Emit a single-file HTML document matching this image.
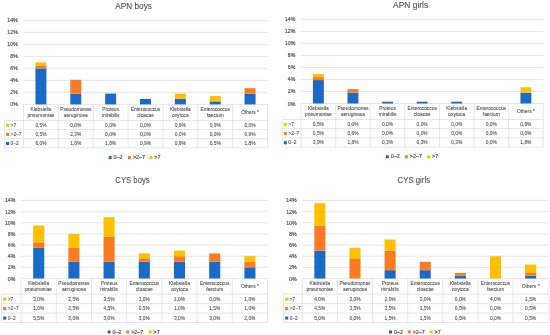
<!DOCTYPE html>
<html lang="en"><head><meta charset="utf-8"><title>Uropathogens by age group</title>
<style>html,body{margin:0;padding:0;background:#fff}svg{display:block}text{font-family:"Liberation Sans",sans-serif;fill:#555555;stroke:#555;stroke-width:0.2px}.v{stroke-width:0.1px}.s{font-size:4.95px}.t{font-size:8.8px;fill:#555555;stroke-width:0.12px}.g{stroke:#dcdcdc;stroke-width:0.7;fill:none}</style></head><body>
<svg width="550" height="335" viewBox="0 0 550 335">
<rect width="550" height="335" fill="#fff"/>
<g>
<text class="t" x="133.6" y="8.7" text-anchor="middle" textLength="36.6" lengthAdjust="spacingAndGlyphs">APN boys</text>
<path class="g" d="M23.5 104.4H267.5M23.5 92.41H267.5M23.5 80.41H267.5M23.5 68.42H267.5M23.5 56.43H267.5M23.5 44.44H267.5M23.5 32.44H267.5M23.5 20.45H267.5M4.4 120.5H267.5M4.4 129.5H267.5M4.4 138.7H267.5M4.4 147.8H267.5M23.5 104.4V147.8M58.36 104.4V147.8M93.21 104.4V147.8M128.07 104.4V147.8M162.93 104.4V147.8M197.79 104.4V147.8M232.64 104.4V147.8M267.5 104.4V147.8M4.4 120.5V147.8"/>
<text text-anchor="end" x="17.8" y="106.4" font-size="5.8" textLength="7.54" lengthAdjust="spacingAndGlyphs">0%</text>
<text text-anchor="end" x="17.8" y="94.41" font-size="5.8" textLength="7.54" lengthAdjust="spacingAndGlyphs">2%</text>
<text text-anchor="end" x="17.8" y="82.41" font-size="5.8" textLength="7.54" lengthAdjust="spacingAndGlyphs">4%</text>
<text text-anchor="end" x="17.8" y="70.42" font-size="5.8" textLength="7.54" lengthAdjust="spacingAndGlyphs">6%</text>
<text text-anchor="end" x="17.8" y="58.43" font-size="5.8" textLength="7.54" lengthAdjust="spacingAndGlyphs">8%</text>
<text text-anchor="end" x="17.8" y="46.44" font-size="5.8" textLength="10.45" lengthAdjust="spacingAndGlyphs">10%</text>
<text text-anchor="end" x="17.8" y="34.44" font-size="5.8" textLength="10.45" lengthAdjust="spacingAndGlyphs">12%</text>
<text text-anchor="end" x="17.8" y="22.45" font-size="5.8" textLength="10.45" lengthAdjust="spacingAndGlyphs">14%</text>
<rect x="35.43" y="68.42" width="11" height="35.98" fill="#1a6ac8"/>
<rect x="35.43" y="65.42" width="11" height="3" fill="#fb7b22"/>
<rect x="35.43" y="62.43" width="11" height="3" fill="#ffc000"/>
<rect x="70.29" y="93.61" width="11" height="10.79" fill="#1a6ac8"/>
<rect x="70.29" y="79.81" width="11" height="13.79" fill="#fb7b22"/>
<rect x="105.14" y="93.61" width="11" height="10.79" fill="#1a6ac8"/>
<rect x="140" y="99" width="11" height="5.4" fill="#1a6ac8"/>
<rect x="174.86" y="99" width="11" height="5.4" fill="#1a6ac8"/>
<rect x="174.86" y="93.61" width="11" height="5.4" fill="#ffc000"/>
<rect x="209.72" y="101.4" width="11" height="3" fill="#1a6ac8"/>
<rect x="209.72" y="96.01" width="11" height="5.4" fill="#ffc000"/>
<rect x="244.57" y="93.61" width="11" height="10.79" fill="#1a6ac8"/>
<rect x="244.57" y="88.21" width="11" height="5.4" fill="#fb7b22"/>
<text class="v" text-anchor="middle" x="40.93" y="111.25" font-size="5.4" textLength="20.8" lengthAdjust="spacingAndGlyphs">Klebsiella</text>
<text class="v" text-anchor="middle" x="40.93" y="117.25" font-size="5.4" textLength="26.75" lengthAdjust="spacingAndGlyphs">pneumoniae</text>
<text class="v" text-anchor="middle" x="75.79" y="111.25" font-size="5.4" textLength="31.07" lengthAdjust="spacingAndGlyphs">Pseudomonas</text>
<text class="v" text-anchor="middle" x="75.79" y="117.25" font-size="5.4" textLength="24.05" lengthAdjust="spacingAndGlyphs">aeruginosa</text>
<text class="v" text-anchor="middle" x="110.64" y="111.25" font-size="5.4" textLength="16.75" lengthAdjust="spacingAndGlyphs">Proteus</text>
<text class="v" text-anchor="middle" x="110.64" y="117.25" font-size="5.4" textLength="17.82" lengthAdjust="spacingAndGlyphs">mirabilis</text>
<text class="v" text-anchor="middle" x="145.5" y="111.25" font-size="5.4" textLength="29.44" lengthAdjust="spacingAndGlyphs">Enterococcus</text>
<text class="v" text-anchor="middle" x="145.5" y="117.25" font-size="5.4" textLength="16.75" lengthAdjust="spacingAndGlyphs">cloacae</text>
<text class="v" text-anchor="middle" x="180.36" y="111.25" font-size="5.4" textLength="20.8" lengthAdjust="spacingAndGlyphs">Klebsiella</text>
<text class="v" text-anchor="middle" x="180.36" y="117.25" font-size="5.4" textLength="16.75" lengthAdjust="spacingAndGlyphs">oxytoca</text>
<text class="v" text-anchor="middle" x="215.21" y="111.25" font-size="5.4" textLength="29.44" lengthAdjust="spacingAndGlyphs">Enterococcus</text>
<text class="v" text-anchor="middle" x="215.21" y="117.25" font-size="5.4" textLength="17.02" lengthAdjust="spacingAndGlyphs">faecium</text>
<text class="v" text-anchor="middle" x="250.07" y="114.35" font-size="5.4" textLength="17.83" lengthAdjust="spacingAndGlyphs">Others *</text>
<rect x="6.05" y="123.75" width="3.1" height="3.1" fill="#ffc000"/>
<text class="v" x="10.6" y="126.9" font-size="5.4" textLength="5.54" lengthAdjust="spacingAndGlyphs">&gt;7</text>
<text class="v" text-anchor="middle" x="40.93" y="126.9" font-size="5.4" textLength="11.08" lengthAdjust="spacingAndGlyphs">0,5%</text>
<text class="v" text-anchor="middle" x="75.79" y="126.9" font-size="5.4" textLength="11.08" lengthAdjust="spacingAndGlyphs">0,0%</text>
<text class="v" text-anchor="middle" x="110.64" y="126.9" font-size="5.4" textLength="11.08" lengthAdjust="spacingAndGlyphs">0,0%</text>
<text class="v" text-anchor="middle" x="145.5" y="126.9" font-size="5.4" textLength="11.08" lengthAdjust="spacingAndGlyphs">0,0%</text>
<text class="v" text-anchor="middle" x="180.36" y="126.9" font-size="5.4" textLength="11.08" lengthAdjust="spacingAndGlyphs">0,9%</text>
<text class="v" text-anchor="middle" x="215.21" y="126.9" font-size="5.4" textLength="11.08" lengthAdjust="spacingAndGlyphs">0,9%</text>
<text class="v" text-anchor="middle" x="250.07" y="126.9" font-size="5.4" textLength="11.08" lengthAdjust="spacingAndGlyphs">0,0%</text>
<rect x="6.05" y="132.85" width="3.1" height="3.1" fill="#fb7b22"/>
<text class="v" x="10.6" y="136" font-size="5.4" textLength="10.95" lengthAdjust="spacingAndGlyphs">&gt;2–7</text>
<text class="v" text-anchor="middle" x="40.93" y="136" font-size="5.4" textLength="11.08" lengthAdjust="spacingAndGlyphs">0,5%</text>
<text class="v" text-anchor="middle" x="75.79" y="136" font-size="5.4" textLength="11.08" lengthAdjust="spacingAndGlyphs">2,3%</text>
<text class="v" text-anchor="middle" x="110.64" y="136" font-size="5.4" textLength="11.08" lengthAdjust="spacingAndGlyphs">0,0%</text>
<text class="v" text-anchor="middle" x="145.5" y="136" font-size="5.4" textLength="11.08" lengthAdjust="spacingAndGlyphs">0,0%</text>
<text class="v" text-anchor="middle" x="180.36" y="136" font-size="5.4" textLength="11.08" lengthAdjust="spacingAndGlyphs">0,0%</text>
<text class="v" text-anchor="middle" x="215.21" y="136" font-size="5.4" textLength="11.08" lengthAdjust="spacingAndGlyphs">0,0%</text>
<text class="v" text-anchor="middle" x="250.07" y="136" font-size="5.4" textLength="11.08" lengthAdjust="spacingAndGlyphs">0,9%</text>
<rect x="6.05" y="142" width="3.1" height="3.1" fill="#1a6ac8"/>
<text class="v" x="10.6" y="145.15" font-size="5.4" textLength="8.11" lengthAdjust="spacingAndGlyphs">0–2</text>
<text class="v" text-anchor="middle" x="40.93" y="145.15" font-size="5.4" textLength="11.08" lengthAdjust="spacingAndGlyphs">6,0%</text>
<text class="v" text-anchor="middle" x="75.79" y="145.15" font-size="5.4" textLength="11.08" lengthAdjust="spacingAndGlyphs">1,8%</text>
<text class="v" text-anchor="middle" x="110.64" y="145.15" font-size="5.4" textLength="11.08" lengthAdjust="spacingAndGlyphs">1,8%</text>
<text class="v" text-anchor="middle" x="145.5" y="145.15" font-size="5.4" textLength="11.08" lengthAdjust="spacingAndGlyphs">0,9%</text>
<text class="v" text-anchor="middle" x="180.36" y="145.15" font-size="5.4" textLength="11.08" lengthAdjust="spacingAndGlyphs">0,9%</text>
<text class="v" text-anchor="middle" x="215.21" y="145.15" font-size="5.4" textLength="11.08" lengthAdjust="spacingAndGlyphs">0,5%</text>
<text class="v" text-anchor="middle" x="250.07" y="145.15" font-size="5.4" textLength="11.08" lengthAdjust="spacingAndGlyphs">1,8%</text>
<rect x="108.7" y="156.1" width="3" height="3" fill="#1a6ac8"/>
<text x="113.6" y="159.1" font-size="5.8" textLength="9" lengthAdjust="spacingAndGlyphs">0–2</text>
<rect x="128" y="156.1" width="3" height="3" fill="#fb7b22"/>
<text x="132.9" y="159.1" font-size="5.8" textLength="12.15" lengthAdjust="spacingAndGlyphs">&gt;2–7</text>
<rect x="149.4" y="156.1" width="3" height="3" fill="#ffc000"/>
<text x="154.3" y="159.1" font-size="5.8" textLength="6.15" lengthAdjust="spacingAndGlyphs">&gt;7</text>
</g>
<g>
<text class="t" x="410.6" y="7.6" text-anchor="middle" textLength="35.1" lengthAdjust="spacingAndGlyphs">APN girls</text>
<path class="g" d="M301.1 103.5H543.2M301.1 91.49H543.2M301.1 79.49H543.2M301.1 67.48H543.2M301.1 55.47H543.2M301.1 43.46H543.2M301.1 31.46H543.2M301.1 19.45H543.2M282.1 119.5H543.2M282.1 128.6H543.2M282.1 137.8H543.2M282.1 147.1H543.2M301.1 103.5V147.1M335.69 103.5V147.1M370.27 103.5V147.1M404.86 103.5V147.1M439.44 103.5V147.1M474.03 103.5V147.1M508.61 103.5V147.1M543.2 103.5V147.1M282.1 119.5V147.1"/>
<text text-anchor="end" x="295.4" y="105.5" font-size="5.8" textLength="7.54" lengthAdjust="spacingAndGlyphs">0%</text>
<text text-anchor="end" x="295.4" y="93.49" font-size="5.8" textLength="7.54" lengthAdjust="spacingAndGlyphs">2%</text>
<text text-anchor="end" x="295.4" y="81.49" font-size="5.8" textLength="7.54" lengthAdjust="spacingAndGlyphs">4%</text>
<text text-anchor="end" x="295.4" y="69.48" font-size="5.8" textLength="7.54" lengthAdjust="spacingAndGlyphs">6%</text>
<text text-anchor="end" x="295.4" y="57.47" font-size="5.8" textLength="7.54" lengthAdjust="spacingAndGlyphs">8%</text>
<text text-anchor="end" x="295.4" y="45.46" font-size="5.8" textLength="10.45" lengthAdjust="spacingAndGlyphs">10%</text>
<text text-anchor="end" x="295.4" y="33.46" font-size="5.8" textLength="10.45" lengthAdjust="spacingAndGlyphs">12%</text>
<text text-anchor="end" x="295.4" y="21.45" font-size="5.8" textLength="10.45" lengthAdjust="spacingAndGlyphs">14%</text>
<rect x="312.94" y="80.09" width="10.91" height="23.41" fill="#1a6ac8"/>
<rect x="312.94" y="77.08" width="10.91" height="3" fill="#fb7b22"/>
<rect x="312.94" y="74.08" width="10.91" height="3" fill="#ffc000"/>
<rect x="347.52" y="92.69" width="10.91" height="10.81" fill="#1a6ac8"/>
<rect x="347.52" y="89.09" width="10.91" height="3.6" fill="#fb7b22"/>
<rect x="382.11" y="101.7" width="10.91" height="1.8" fill="#1a6ac8"/>
<rect x="416.69" y="101.7" width="10.91" height="1.8" fill="#1a6ac8"/>
<rect x="451.28" y="101.7" width="10.91" height="1.8" fill="#1a6ac8"/>
<rect x="520.45" y="92.69" width="10.91" height="10.81" fill="#1a6ac8"/>
<rect x="520.45" y="87.29" width="10.91" height="5.4" fill="#ffc000"/>
<text class="v" text-anchor="middle" x="318.39" y="110.3" font-size="5.4" textLength="20.8" lengthAdjust="spacingAndGlyphs">Klebsiella</text>
<text class="v" text-anchor="middle" x="318.39" y="116.3" font-size="5.4" textLength="26.75" lengthAdjust="spacingAndGlyphs">pneumoniae</text>
<text class="v" text-anchor="middle" x="352.98" y="110.3" font-size="5.4" textLength="31.07" lengthAdjust="spacingAndGlyphs">Pseudomonas</text>
<text class="v" text-anchor="middle" x="352.98" y="116.3" font-size="5.4" textLength="24.05" lengthAdjust="spacingAndGlyphs">aeruginosa</text>
<text class="v" text-anchor="middle" x="387.56" y="110.3" font-size="5.4" textLength="16.75" lengthAdjust="spacingAndGlyphs">Proteus</text>
<text class="v" text-anchor="middle" x="387.56" y="116.3" font-size="5.4" textLength="17.82" lengthAdjust="spacingAndGlyphs">mirabilis</text>
<text class="v" text-anchor="middle" x="422.15" y="110.3" font-size="5.4" textLength="29.44" lengthAdjust="spacingAndGlyphs">Enterococcus</text>
<text class="v" text-anchor="middle" x="422.15" y="116.3" font-size="5.4" textLength="16.75" lengthAdjust="spacingAndGlyphs">cloacae</text>
<text class="v" text-anchor="middle" x="456.74" y="110.3" font-size="5.4" textLength="20.8" lengthAdjust="spacingAndGlyphs">Klebsiella</text>
<text class="v" text-anchor="middle" x="456.74" y="116.3" font-size="5.4" textLength="16.75" lengthAdjust="spacingAndGlyphs">oxytoca</text>
<text class="v" text-anchor="middle" x="491.32" y="110.3" font-size="5.4" textLength="29.44" lengthAdjust="spacingAndGlyphs">Enterococcus</text>
<text class="v" text-anchor="middle" x="491.32" y="116.3" font-size="5.4" textLength="17.02" lengthAdjust="spacingAndGlyphs">faecium</text>
<text class="v" text-anchor="middle" x="525.91" y="113.4" font-size="5.4" textLength="17.83" lengthAdjust="spacingAndGlyphs">Others *</text>
<rect x="283.75" y="122.8" width="3.1" height="3.1" fill="#ffc000"/>
<text class="v" x="288.3" y="125.95" font-size="5.4" textLength="5.54" lengthAdjust="spacingAndGlyphs">&gt;7</text>
<text class="v" text-anchor="middle" x="318.39" y="125.95" font-size="5.4" textLength="11.08" lengthAdjust="spacingAndGlyphs">0,5%</text>
<text class="v" text-anchor="middle" x="352.98" y="125.95" font-size="5.4" textLength="11.08" lengthAdjust="spacingAndGlyphs">0,0%</text>
<text class="v" text-anchor="middle" x="387.56" y="125.95" font-size="5.4" textLength="11.08" lengthAdjust="spacingAndGlyphs">0,0%</text>
<text class="v" text-anchor="middle" x="422.15" y="125.95" font-size="5.4" textLength="11.08" lengthAdjust="spacingAndGlyphs">0,0%</text>
<text class="v" text-anchor="middle" x="456.74" y="125.95" font-size="5.4" textLength="11.08" lengthAdjust="spacingAndGlyphs">0,0%</text>
<text class="v" text-anchor="middle" x="491.32" y="125.95" font-size="5.4" textLength="11.08" lengthAdjust="spacingAndGlyphs">0,0%</text>
<text class="v" text-anchor="middle" x="525.91" y="125.95" font-size="5.4" textLength="11.08" lengthAdjust="spacingAndGlyphs">0,9%</text>
<rect x="283.75" y="131.95" width="3.1" height="3.1" fill="#fb7b22"/>
<text class="v" x="288.3" y="135.1" font-size="5.4" textLength="10.95" lengthAdjust="spacingAndGlyphs">&gt;2–7</text>
<text class="v" text-anchor="middle" x="318.39" y="135.1" font-size="5.4" textLength="11.08" lengthAdjust="spacingAndGlyphs">0,5%</text>
<text class="v" text-anchor="middle" x="352.98" y="135.1" font-size="5.4" textLength="11.08" lengthAdjust="spacingAndGlyphs">0,6%</text>
<text class="v" text-anchor="middle" x="387.56" y="135.1" font-size="5.4" textLength="11.08" lengthAdjust="spacingAndGlyphs">0,0%</text>
<text class="v" text-anchor="middle" x="422.15" y="135.1" font-size="5.4" textLength="11.08" lengthAdjust="spacingAndGlyphs">0,0%</text>
<text class="v" text-anchor="middle" x="456.74" y="135.1" font-size="5.4" textLength="11.08" lengthAdjust="spacingAndGlyphs">0,0%</text>
<text class="v" text-anchor="middle" x="491.32" y="135.1" font-size="5.4" textLength="11.08" lengthAdjust="spacingAndGlyphs">0,0%</text>
<text class="v" text-anchor="middle" x="525.91" y="135.1" font-size="5.4" textLength="11.08" lengthAdjust="spacingAndGlyphs">0,0%</text>
<rect x="283.75" y="141.2" width="3.1" height="3.1" fill="#1a6ac8"/>
<text class="v" x="288.3" y="144.35" font-size="5.4" textLength="8.11" lengthAdjust="spacingAndGlyphs">0–2</text>
<text class="v" text-anchor="middle" x="318.39" y="144.35" font-size="5.4" textLength="11.08" lengthAdjust="spacingAndGlyphs">3,9%</text>
<text class="v" text-anchor="middle" x="352.98" y="144.35" font-size="5.4" textLength="11.08" lengthAdjust="spacingAndGlyphs">1,8%</text>
<text class="v" text-anchor="middle" x="387.56" y="144.35" font-size="5.4" textLength="11.08" lengthAdjust="spacingAndGlyphs">0,3%</text>
<text class="v" text-anchor="middle" x="422.15" y="144.35" font-size="5.4" textLength="11.08" lengthAdjust="spacingAndGlyphs">0,3%</text>
<text class="v" text-anchor="middle" x="456.74" y="144.35" font-size="5.4" textLength="11.08" lengthAdjust="spacingAndGlyphs">0,3%</text>
<text class="v" text-anchor="middle" x="491.32" y="144.35" font-size="5.4" textLength="11.08" lengthAdjust="spacingAndGlyphs">0,0%</text>
<text class="v" text-anchor="middle" x="525.91" y="144.35" font-size="5.4" textLength="11.08" lengthAdjust="spacingAndGlyphs">1,8%</text>
<rect x="385.8" y="155.3" width="3" height="3" fill="#1a6ac8"/>
<text x="390.7" y="158.3" font-size="5.8" textLength="9" lengthAdjust="spacingAndGlyphs">0–2</text>
<rect x="404.9" y="155.3" width="3" height="3" fill="#fb7b22"/>
<text x="409.8" y="158.3" font-size="5.8" textLength="12.15" lengthAdjust="spacingAndGlyphs">&gt;2–7</text>
<rect x="427.2" y="155.3" width="3" height="3" fill="#ffc000"/>
<text x="432.1" y="158.3" font-size="5.8" textLength="6.15" lengthAdjust="spacingAndGlyphs">&gt;7</text>
</g>
<g>
<text class="t" x="132.5" y="183" text-anchor="middle" textLength="34.3" lengthAdjust="spacingAndGlyphs">CYS boys</text>
<path class="g" d="M21.1 278.5H267.5M21.1 267.35H267.5M21.1 256.2H267.5M21.1 245.05H267.5M21.1 233.9H267.5M21.1 222.75H267.5M21.1 211.6H267.5M21.1 200.45H267.5M1.5 294.1H267.5M1.5 303.6H267.5M1.5 313.05H267.5M1.5 322.5H267.5M21.1 278.5V322.5M56.3 278.5V322.5M91.5 278.5V322.5M126.7 278.5V322.5M161.9 278.5V322.5M197.1 278.5V322.5M232.3 278.5V322.5M267.5 278.5V322.5M1.5 294.1V322.5"/>
<text text-anchor="end" x="15.4" y="280.5" font-size="5.8" textLength="7.54" lengthAdjust="spacingAndGlyphs">0%</text>
<text text-anchor="end" x="15.4" y="269.35" font-size="5.8" textLength="7.54" lengthAdjust="spacingAndGlyphs">2%</text>
<text text-anchor="end" x="15.4" y="258.2" font-size="5.8" textLength="7.54" lengthAdjust="spacingAndGlyphs">4%</text>
<text text-anchor="end" x="15.4" y="247.05" font-size="5.8" textLength="7.54" lengthAdjust="spacingAndGlyphs">6%</text>
<text text-anchor="end" x="15.4" y="235.9" font-size="5.8" textLength="7.54" lengthAdjust="spacingAndGlyphs">8%</text>
<text text-anchor="end" x="15.4" y="224.75" font-size="5.8" textLength="10.45" lengthAdjust="spacingAndGlyphs">10%</text>
<text text-anchor="end" x="15.4" y="213.6" font-size="5.8" textLength="10.45" lengthAdjust="spacingAndGlyphs">12%</text>
<text text-anchor="end" x="15.4" y="202.45" font-size="5.8" textLength="10.45" lengthAdjust="spacingAndGlyphs">14%</text>
<rect x="33.15" y="247.84" width="11.1" height="30.66" fill="#1a6ac8"/>
<rect x="33.15" y="242.26" width="11.1" height="5.58" fill="#fb7b22"/>
<rect x="33.15" y="225.54" width="11.1" height="16.73" fill="#ffc000"/>
<rect x="68.35" y="261.77" width="11.1" height="16.73" fill="#1a6ac8"/>
<rect x="68.35" y="247.84" width="11.1" height="13.94" fill="#fb7b22"/>
<rect x="68.35" y="233.9" width="11.1" height="13.94" fill="#ffc000"/>
<rect x="103.55" y="261.77" width="11.1" height="16.73" fill="#1a6ac8"/>
<rect x="103.55" y="236.69" width="11.1" height="25.09" fill="#fb7b22"/>
<rect x="103.55" y="217.17" width="11.1" height="19.51" fill="#ffc000"/>
<rect x="138.75" y="261.77" width="11.1" height="16.73" fill="#1a6ac8"/>
<rect x="138.75" y="258.99" width="11.1" height="2.79" fill="#fb7b22"/>
<rect x="138.75" y="253.41" width="11.1" height="5.58" fill="#ffc000"/>
<rect x="173.95" y="261.77" width="11.1" height="16.73" fill="#1a6ac8"/>
<rect x="173.95" y="256.2" width="11.1" height="5.58" fill="#fb7b22"/>
<rect x="173.95" y="250.62" width="11.1" height="5.58" fill="#ffc000"/>
<rect x="209.15" y="261.77" width="11.1" height="16.73" fill="#1a6ac8"/>
<rect x="209.15" y="253.41" width="11.1" height="8.36" fill="#fb7b22"/>
<rect x="244.35" y="267.35" width="11.1" height="11.15" fill="#1a6ac8"/>
<rect x="244.35" y="261.77" width="11.1" height="5.58" fill="#fb7b22"/>
<rect x="244.35" y="256.2" width="11.1" height="5.58" fill="#ffc000"/>
<text class="v" text-anchor="middle" x="38.7" y="285.1" font-size="5.4" textLength="20.8" lengthAdjust="spacingAndGlyphs">Klebsiella</text>
<text class="v" text-anchor="middle" x="38.7" y="291.1" font-size="5.4" textLength="26.75" lengthAdjust="spacingAndGlyphs">pneumoniae</text>
<text class="v" text-anchor="middle" x="73.9" y="285.1" font-size="5.4" textLength="31.07" lengthAdjust="spacingAndGlyphs">Pseudomonas</text>
<text class="v" text-anchor="middle" x="73.9" y="291.1" font-size="5.4" textLength="24.05" lengthAdjust="spacingAndGlyphs">aeruginosa</text>
<text class="v" text-anchor="middle" x="109.1" y="285.1" font-size="5.4" textLength="16.75" lengthAdjust="spacingAndGlyphs">Proteus</text>
<text class="v" text-anchor="middle" x="109.1" y="291.1" font-size="5.4" textLength="17.82" lengthAdjust="spacingAndGlyphs">mirabilis</text>
<text class="v" text-anchor="middle" x="144.3" y="285.1" font-size="5.4" textLength="29.44" lengthAdjust="spacingAndGlyphs">Enterococcus</text>
<text class="v" text-anchor="middle" x="144.3" y="291.1" font-size="5.4" textLength="16.75" lengthAdjust="spacingAndGlyphs">cloacae</text>
<text class="v" text-anchor="middle" x="179.5" y="285.1" font-size="5.4" textLength="20.8" lengthAdjust="spacingAndGlyphs">Klebsiella</text>
<text class="v" text-anchor="middle" x="179.5" y="291.1" font-size="5.4" textLength="16.75" lengthAdjust="spacingAndGlyphs">oxytoca</text>
<text class="v" text-anchor="middle" x="214.7" y="285.1" font-size="5.4" textLength="29.44" lengthAdjust="spacingAndGlyphs">Enterococcus</text>
<text class="v" text-anchor="middle" x="214.7" y="291.1" font-size="5.4" textLength="17.02" lengthAdjust="spacingAndGlyphs">faecium</text>
<text class="v" text-anchor="middle" x="249.9" y="288.2" font-size="5.4" textLength="17.83" lengthAdjust="spacingAndGlyphs">Others *</text>
<rect x="3.15" y="297.6" width="3.1" height="3.1" fill="#ffc000"/>
<text class="v" x="7.7" y="300.75" font-size="5.4" textLength="5.54" lengthAdjust="spacingAndGlyphs">&gt;7</text>
<text class="v" text-anchor="middle" x="38.7" y="300.75" font-size="5.4" textLength="11.08" lengthAdjust="spacingAndGlyphs">3,0%</text>
<text class="v" text-anchor="middle" x="73.9" y="300.75" font-size="5.4" textLength="11.08" lengthAdjust="spacingAndGlyphs">2,5%</text>
<text class="v" text-anchor="middle" x="109.1" y="300.75" font-size="5.4" textLength="11.08" lengthAdjust="spacingAndGlyphs">3,5%</text>
<text class="v" text-anchor="middle" x="144.3" y="300.75" font-size="5.4" textLength="11.08" lengthAdjust="spacingAndGlyphs">1,0%</text>
<text class="v" text-anchor="middle" x="179.5" y="300.75" font-size="5.4" textLength="11.08" lengthAdjust="spacingAndGlyphs">1,0%</text>
<text class="v" text-anchor="middle" x="214.7" y="300.75" font-size="5.4" textLength="11.08" lengthAdjust="spacingAndGlyphs">0,0%</text>
<text class="v" text-anchor="middle" x="249.9" y="300.75" font-size="5.4" textLength="11.08" lengthAdjust="spacingAndGlyphs">1,0%</text>
<rect x="3.15" y="307.08" width="3.1" height="3.1" fill="#fb7b22"/>
<text class="v" x="7.7" y="310.23" font-size="5.4" textLength="10.95" lengthAdjust="spacingAndGlyphs">&gt;2–7</text>
<text class="v" text-anchor="middle" x="38.7" y="310.23" font-size="5.4" textLength="11.08" lengthAdjust="spacingAndGlyphs">1,0%</text>
<text class="v" text-anchor="middle" x="73.9" y="310.23" font-size="5.4" textLength="11.08" lengthAdjust="spacingAndGlyphs">2,5%</text>
<text class="v" text-anchor="middle" x="109.1" y="310.23" font-size="5.4" textLength="11.08" lengthAdjust="spacingAndGlyphs">4,5%</text>
<text class="v" text-anchor="middle" x="144.3" y="310.23" font-size="5.4" textLength="11.08" lengthAdjust="spacingAndGlyphs">0,5%</text>
<text class="v" text-anchor="middle" x="179.5" y="310.23" font-size="5.4" textLength="11.08" lengthAdjust="spacingAndGlyphs">1,0%</text>
<text class="v" text-anchor="middle" x="214.7" y="310.23" font-size="5.4" textLength="11.08" lengthAdjust="spacingAndGlyphs">1,5%</text>
<text class="v" text-anchor="middle" x="249.9" y="310.23" font-size="5.4" textLength="11.08" lengthAdjust="spacingAndGlyphs">1,0%</text>
<rect x="3.15" y="316.52" width="3.1" height="3.1" fill="#1a6ac8"/>
<text class="v" x="7.7" y="319.67" font-size="5.4" textLength="8.11" lengthAdjust="spacingAndGlyphs">0–2</text>
<text class="v" text-anchor="middle" x="38.7" y="319.67" font-size="5.4" textLength="11.08" lengthAdjust="spacingAndGlyphs">5,5%</text>
<text class="v" text-anchor="middle" x="73.9" y="319.67" font-size="5.4" textLength="11.08" lengthAdjust="spacingAndGlyphs">3,0%</text>
<text class="v" text-anchor="middle" x="109.1" y="319.67" font-size="5.4" textLength="11.08" lengthAdjust="spacingAndGlyphs">3,0%</text>
<text class="v" text-anchor="middle" x="144.3" y="319.67" font-size="5.4" textLength="11.08" lengthAdjust="spacingAndGlyphs">3,0%</text>
<text class="v" text-anchor="middle" x="179.5" y="319.67" font-size="5.4" textLength="11.08" lengthAdjust="spacingAndGlyphs">3,0%</text>
<text class="v" text-anchor="middle" x="214.7" y="319.67" font-size="5.4" textLength="11.08" lengthAdjust="spacingAndGlyphs">3,0%</text>
<text class="v" text-anchor="middle" x="249.9" y="319.67" font-size="5.4" textLength="11.08" lengthAdjust="spacingAndGlyphs">2,0%</text>
<rect x="107.6" y="330.5" width="3" height="3" fill="#1a6ac8"/>
<text x="112.5" y="333.5" font-size="5.8" textLength="9" lengthAdjust="spacingAndGlyphs">0–2</text>
<rect x="126.3" y="330.5" width="3" height="3" fill="#fb7b22"/>
<text x="131.2" y="333.5" font-size="5.8" textLength="12.15" lengthAdjust="spacingAndGlyphs">&gt;2–7</text>
<rect x="148.7" y="330.5" width="3" height="3" fill="#ffc000"/>
<text x="153.6" y="333.5" font-size="5.8" textLength="6.15" lengthAdjust="spacingAndGlyphs">&gt;7</text>
</g>
<g>
<text class="t" x="413.8" y="183" text-anchor="middle" textLength="32.5" lengthAdjust="spacingAndGlyphs">CYS girls</text>
<path class="g" d="M302.3 278.55H548.2M302.3 267.39H548.2M302.3 256.24H548.2M302.3 245.08H548.2M302.3 233.92H548.2M302.3 222.76H548.2M302.3 211.61H548.2M302.3 200.45H548.2M283.5 294.1H548.2M283.5 303.6H548.2M283.5 313.05H548.2M283.5 322.5H548.2M302.3 278.55V322.5M337.43 278.55V322.5M372.56 278.55V322.5M407.69 278.55V322.5M442.81 278.55V322.5M477.94 278.55V322.5M513.07 278.55V322.5M548.2 278.55V322.5M283.5 294.1V322.5"/>
<text text-anchor="end" x="296.6" y="280.55" font-size="5.8" textLength="7.54" lengthAdjust="spacingAndGlyphs">0%</text>
<text text-anchor="end" x="296.6" y="269.39" font-size="5.8" textLength="7.54" lengthAdjust="spacingAndGlyphs">2%</text>
<text text-anchor="end" x="296.6" y="258.24" font-size="5.8" textLength="7.54" lengthAdjust="spacingAndGlyphs">4%</text>
<text text-anchor="end" x="296.6" y="247.08" font-size="5.8" textLength="7.54" lengthAdjust="spacingAndGlyphs">6%</text>
<text text-anchor="end" x="296.6" y="235.92" font-size="5.8" textLength="7.54" lengthAdjust="spacingAndGlyphs">8%</text>
<text text-anchor="end" x="296.6" y="224.76" font-size="5.8" textLength="10.45" lengthAdjust="spacingAndGlyphs">10%</text>
<text text-anchor="end" x="296.6" y="213.61" font-size="5.8" textLength="10.45" lengthAdjust="spacingAndGlyphs">12%</text>
<text text-anchor="end" x="296.6" y="202.45" font-size="5.8" textLength="10.45" lengthAdjust="spacingAndGlyphs">14%</text>
<rect x="314.32" y="250.66" width="11.08" height="27.89" fill="#1a6ac8"/>
<rect x="314.32" y="225.55" width="11.08" height="25.1" fill="#fb7b22"/>
<rect x="314.32" y="203.24" width="11.08" height="22.31" fill="#ffc000"/>
<rect x="349.45" y="259.02" width="11.08" height="19.53" fill="#fb7b22"/>
<rect x="349.45" y="247.87" width="11.08" height="11.16" fill="#ffc000"/>
<rect x="384.58" y="270.18" width="11.08" height="8.37" fill="#1a6ac8"/>
<rect x="384.58" y="250.66" width="11.08" height="19.53" fill="#fb7b22"/>
<rect x="384.58" y="239.5" width="11.08" height="11.16" fill="#ffc000"/>
<rect x="419.71" y="270.18" width="11.08" height="8.37" fill="#1a6ac8"/>
<rect x="419.71" y="261.81" width="11.08" height="8.37" fill="#fb7b22"/>
<rect x="454.84" y="275.76" width="11.08" height="2.79" fill="#1a6ac8"/>
<rect x="454.84" y="272.97" width="11.08" height="2.79" fill="#fb7b22"/>
<rect x="489.97" y="256.24" width="11.08" height="22.31" fill="#ffc000"/>
<rect x="525.09" y="275.76" width="11.08" height="2.79" fill="#1a6ac8"/>
<rect x="525.09" y="272.97" width="11.08" height="2.79" fill="#fb7b22"/>
<rect x="525.09" y="264.6" width="11.08" height="8.37" fill="#ffc000"/>
<text class="v" text-anchor="middle" x="319.86" y="285.13" font-size="5.4" textLength="20.8" lengthAdjust="spacingAndGlyphs">Klebsiella</text>
<text class="v" text-anchor="middle" x="319.86" y="291.13" font-size="5.4" textLength="26.75" lengthAdjust="spacingAndGlyphs">pneumoniae</text>
<text class="v" text-anchor="middle" x="354.99" y="285.13" font-size="5.4" textLength="31.07" lengthAdjust="spacingAndGlyphs">Pseudomonas</text>
<text class="v" text-anchor="middle" x="354.99" y="291.13" font-size="5.4" textLength="24.05" lengthAdjust="spacingAndGlyphs">aeruginosa</text>
<text class="v" text-anchor="middle" x="390.12" y="285.13" font-size="5.4" textLength="16.75" lengthAdjust="spacingAndGlyphs">Proteus</text>
<text class="v" text-anchor="middle" x="390.12" y="291.13" font-size="5.4" textLength="17.82" lengthAdjust="spacingAndGlyphs">mirabilis</text>
<text class="v" text-anchor="middle" x="425.25" y="285.13" font-size="5.4" textLength="29.44" lengthAdjust="spacingAndGlyphs">Enterococcus</text>
<text class="v" text-anchor="middle" x="425.25" y="291.13" font-size="5.4" textLength="16.75" lengthAdjust="spacingAndGlyphs">cloacae</text>
<text class="v" text-anchor="middle" x="460.38" y="285.13" font-size="5.4" textLength="20.8" lengthAdjust="spacingAndGlyphs">Klebsiella</text>
<text class="v" text-anchor="middle" x="460.38" y="291.13" font-size="5.4" textLength="16.75" lengthAdjust="spacingAndGlyphs">oxytoca</text>
<text class="v" text-anchor="middle" x="495.51" y="285.13" font-size="5.4" textLength="29.44" lengthAdjust="spacingAndGlyphs">Enterococcus</text>
<text class="v" text-anchor="middle" x="495.51" y="291.13" font-size="5.4" textLength="17.02" lengthAdjust="spacingAndGlyphs">faecium</text>
<text class="v" text-anchor="middle" x="530.64" y="288.23" font-size="5.4" textLength="17.83" lengthAdjust="spacingAndGlyphs">Others *</text>
<rect x="285.15" y="297.6" width="3.1" height="3.1" fill="#ffc000"/>
<text class="v" x="289.7" y="300.75" font-size="5.4" textLength="5.54" lengthAdjust="spacingAndGlyphs">&gt;7</text>
<text class="v" text-anchor="middle" x="319.86" y="300.75" font-size="5.4" textLength="11.08" lengthAdjust="spacingAndGlyphs">4,0%</text>
<text class="v" text-anchor="middle" x="354.99" y="300.75" font-size="5.4" textLength="11.08" lengthAdjust="spacingAndGlyphs">2,0%</text>
<text class="v" text-anchor="middle" x="390.12" y="300.75" font-size="5.4" textLength="11.08" lengthAdjust="spacingAndGlyphs">2,0%</text>
<text class="v" text-anchor="middle" x="425.25" y="300.75" font-size="5.4" textLength="11.08" lengthAdjust="spacingAndGlyphs">0,0%</text>
<text class="v" text-anchor="middle" x="460.38" y="300.75" font-size="5.4" textLength="11.08" lengthAdjust="spacingAndGlyphs">0,0%</text>
<text class="v" text-anchor="middle" x="495.51" y="300.75" font-size="5.4" textLength="11.08" lengthAdjust="spacingAndGlyphs">4,0%</text>
<text class="v" text-anchor="middle" x="530.64" y="300.75" font-size="5.4" textLength="11.08" lengthAdjust="spacingAndGlyphs">1,5%</text>
<rect x="285.15" y="307.08" width="3.1" height="3.1" fill="#fb7b22"/>
<text class="v" x="289.7" y="310.23" font-size="5.4" textLength="10.95" lengthAdjust="spacingAndGlyphs">&gt;2–7</text>
<text class="v" text-anchor="middle" x="319.86" y="310.23" font-size="5.4" textLength="11.08" lengthAdjust="spacingAndGlyphs">4,5%</text>
<text class="v" text-anchor="middle" x="354.99" y="310.23" font-size="5.4" textLength="11.08" lengthAdjust="spacingAndGlyphs">3,5%</text>
<text class="v" text-anchor="middle" x="390.12" y="310.23" font-size="5.4" textLength="11.08" lengthAdjust="spacingAndGlyphs">3,5%</text>
<text class="v" text-anchor="middle" x="425.25" y="310.23" font-size="5.4" textLength="11.08" lengthAdjust="spacingAndGlyphs">1,5%</text>
<text class="v" text-anchor="middle" x="460.38" y="310.23" font-size="5.4" textLength="11.08" lengthAdjust="spacingAndGlyphs">0,5%</text>
<text class="v" text-anchor="middle" x="495.51" y="310.23" font-size="5.4" textLength="11.08" lengthAdjust="spacingAndGlyphs">0,0%</text>
<text class="v" text-anchor="middle" x="530.64" y="310.23" font-size="5.4" textLength="11.08" lengthAdjust="spacingAndGlyphs">0,5%</text>
<rect x="285.15" y="316.52" width="3.1" height="3.1" fill="#1a6ac8"/>
<text class="v" x="289.7" y="319.67" font-size="5.4" textLength="8.11" lengthAdjust="spacingAndGlyphs">0–2</text>
<text class="v" text-anchor="middle" x="319.86" y="319.67" font-size="5.4" textLength="11.08" lengthAdjust="spacingAndGlyphs">5,0%</text>
<text class="v" text-anchor="middle" x="354.99" y="319.67" font-size="5.4" textLength="11.08" lengthAdjust="spacingAndGlyphs">0,0%</text>
<text class="v" text-anchor="middle" x="390.12" y="319.67" font-size="5.4" textLength="11.08" lengthAdjust="spacingAndGlyphs">1,5%</text>
<text class="v" text-anchor="middle" x="425.25" y="319.67" font-size="5.4" textLength="11.08" lengthAdjust="spacingAndGlyphs">1,5%</text>
<text class="v" text-anchor="middle" x="460.38" y="319.67" font-size="5.4" textLength="11.08" lengthAdjust="spacingAndGlyphs">0,5%</text>
<text class="v" text-anchor="middle" x="495.51" y="319.67" font-size="5.4" textLength="11.08" lengthAdjust="spacingAndGlyphs">0,0%</text>
<text class="v" text-anchor="middle" x="530.64" y="319.67" font-size="5.4" textLength="11.08" lengthAdjust="spacingAndGlyphs">0,5%</text>
<rect x="389" y="330.5" width="3" height="3" fill="#1a6ac8"/>
<text x="393.9" y="333.5" font-size="5.8" textLength="9" lengthAdjust="spacingAndGlyphs">0–2</text>
<rect x="407.8" y="330.5" width="3" height="3" fill="#fb7b22"/>
<text x="412.7" y="333.5" font-size="5.8" textLength="12.15" lengthAdjust="spacingAndGlyphs">&gt;2–7</text>
<rect x="429.7" y="330.5" width="3" height="3" fill="#ffc000"/>
<text x="434.6" y="333.5" font-size="5.8" textLength="6.15" lengthAdjust="spacingAndGlyphs">&gt;7</text>
</g>
</svg></body></html>
